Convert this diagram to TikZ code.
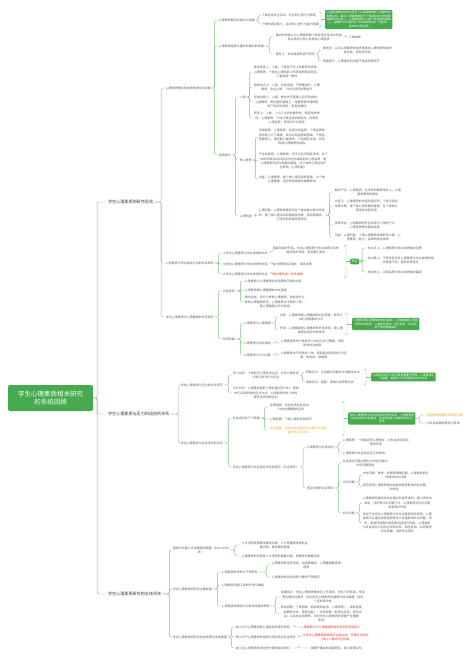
\documentclass[tikz,border=0pt]{standalone}
\usepackage{fontspec}
\setmainfont{Noto Sans CJK SC}
\definecolor{cLine}{RGB}{130,196,130}
\definecolor{cGreen}{RGB}{72,170,78}
\definecolor{cText}{RGB}{95,95,95}
\definecolor{cDark}{RGB}{55,55,55}
\definecolor{cRed}{RGB}{232,52,40}
\definecolor{cOrange}{RGB}{246,160,30}
\tikzset{
 conn/.style={draw=cLine,line width=0.45pt,rounded corners=1.5pt},
 tx/.style={anchor=west,inner sep=0.6pt,align=center,text=cText,font=\fontsize{3}{4.2}\selectfont},
 txr/.style={tx,text=cRed},
 txo/.style={tx,text=cOrange},
 mn/.style={anchor=west,inner sep=0.8pt,text=cDark,font=\fontsize{4.1}{5}\selectfont},
 gb/.style={anchor=west,fill=cGreen,text=white,rounded corners=1pt,inner sep=1.4pt,align=center,font=\fontsize{2.8}{3.4}\selectfont},
 rbox/.style={fill=cGreen,text=white,rounded corners=2pt,minimum width=85pt,minimum height=26pt,align=center,inner sep=2pt,font=\fontsize{6.5}{8.5}\selectfont},
}
\newcommand\lnk[3]{\draw[conn] (#1.east) -- ++(#2,0) |- (#3.west);}
\newcommand\summ[4]{\draw[conn] ({#1-2},#2) -- (#1,#2) -- (#1,#3) -- ({#1-2},#3); \draw[conn] (#1,{(#2+#3)/2}) -- (#4.west);}
\begin{document}
\begin{tikzpicture}[x=1pt,y=-1pt]
\useasboundingbox (0,0) rectangle (474,663);
\fill[white] (0,0) rectangle (474,663);

% root and main branches
\node[rbox] (root) at (50.5,398) {学生心理素质相关研究\\的系统回顾};
\node[mn] (M1) at (107,202) {学生心理素质的研究现状};
\node[mn] (M2) at (107,414) {学生心理素质与压力和适应的关系};
\node[mn] (M3) at (107,594) {学生心理素质研究的总体评述};
\lnk{root}{4}{M1}\lnk{root}{4}{M2}\lnk{root}{4}{M3}

% ===== M1 =====
\node[tx] (A1) at (165,88) {心理素质概念和结构的提出与发展};
\node[tx] (A2) at (165,263) {心理素质与学业成就之间的关系研究};
\node[tx] (A3) at (165,317) {学生心理素质与心理健康的关系研究};
\lnk{M1}{7}{A1}\lnk{M1}{7}{A2}\lnk{M1}{7}{A3}

% A1
\node[tx] (B1) at (218,20) {心理素质概念的提出与发展};
\node[tx] (B2) at (218,46) {心理素质结构从国外到国内的发展};
\node[tx] (B3) at (218,155) {结构成分};
\lnk{A1}{3}{B1}\lnk{A1}{3}{B2}\lnk{A1}{3}{B3}

\node[tx] (C11) at (261,15) {个体在适应生活中，外在的心理行为表现};
\node[tx] (C12) at (261,24) {个体的适应能力，综合的心理行为能力发展};
\lnk{B1}{3}{C11}\lnk{B1}{3}{C12}
\node[gb] (G1) at (325,19.5) {心理素质概念的提出经历了从素质教育到心理素质的\\发展过程，最初心理素质被视为个体适应能力的体现\\随着研究的深入，心理素质被认为是个体在遗传基础\\上，在教育与环境影响下形成的稳定的、内隐的、\\基本的心理品质};
\summ{321}{12}{27}{G1}

\node[tx] (C21) at (275,37) {国内的学者认为心理素质是个体在适应生活中形成\\的以适应为核心的稳定心理品质};
\node[tx] (D21) at (348,37) {三维构成};
\lnk{C21}{3}{D21}
\node[tx] (C22) at (275,54) {国际上：有关素质的因子研究};
\lnk{B2}{5}{C21}\lnk{B2}{5}{C22}
\node[tx] (D221) at (322,50) {素质论：认为心理素质是由多种基本心理特质构成的\\综合体，具有层次性};
\node[tx] (D222) at (322,61) {特质因子：心理素质包含若干基本特质因子};
\lnk{C22}{3}{D221}\lnk{C22}{3}{D222}

% B3
\node[tx] (P1) at (239,97) {人格};
\node[tx] (P2) at (239,160) {核心素质};
\node[tx] (P3) at (239,216) {心理机能};
\lnk{B3}{4}{P1}\lnk{B3}{4}{P2}\lnk{B3}{4}{P3}

\node[tx] (P11) at (253,72) {基本特征上：人格，个体在行为上的差异性表现；\\心理素质，个体在心理机能上所表现的稳定特征，\\二者具有一致性};
\node[tx] (P12) at (253,87) {结构特点上：人格，包含性格、气质等成分；心理\\素质，包含认知、个性与适应性等成分};
\node[tx] (P13) at (253,102) {形成过程上：人格，是在先天基础上后天形成的；\\心理素质，是在遗传基础上，在教育和环境的影\\响下逐步形成的，具有发展性};
\node[tx] (P14) at (253,118) {表现上：人格，人与人之间的差异性、稳定性的体\\现；心理素质，个体心理活动中稳定的、内隐的\\心理品质，表现为行为特征};
\lnk{P1}{3}{P11}\lnk{P1}{3}{P12}\lnk{P1}{3}{P13}\lnk{P1}{3}{P14}

\node[tx] (P21) at (258,137) {内涵结构：心理素质，包括认知品质、个性品质和\\适应能力三个维度，其中认知品质是基础，个性品\\质是核心，适应能力是表现，三者相互作用，共同\\构成心理素质的结构};
\node[tx] (P22) at (258,161) {产生的原因：心理素质，先天与后天相互作用，在个\\体的实践活动中经过内化形成稳定的心理品质，是\\心理素质形成与发展的基础，对个体的心理活动产\\生影响（心理机能）};
\node[tx] (P23) at (258,179) {功能：心理素质，是个体心理活动的基础，对个体\\心理健康、适应和发展具有重要影响};
\lnk{P2}{3}{P21}\lnk{P2}{3}{P22}\lnk{P2}{3}{P23}

\node[tx] (Q) at (258,215) {心理机能：心理素质是经历在个体发展过程中形成\\的，是个体心理活动的基础性机能，具有基础性、\\衍生性和发展性等特点};
\lnk{P3}{3}{Q}
\node[tx] (R1) at (334,192) {概念产生：心理素质，在学校的教育理念上，心理\\素质教育的提出};
\node[tx] (R2) at (334,206) {内容上：心理素质的内容包括认知、个性与适应\\性等方面，是个体心理发展的基础，在个体的心\\理活动中起作用};
\node[tx] (R3) at (334,225) {表现形式：心理素质的外在表现为个体的行为\\心理素质是内隐的品质};
\node[tx] (R4) at (334,237) {功能：心理机能，个体心理素质发展的动力源，心\\理素质、能力、品质的综合体现};
\lnk{Q}{4}{R1}\lnk{Q}{4}{R2}\lnk{Q}{4}{R3}\lnk{Q}{4}{R4}

% A2
\node[tx] (E1) at (222,253) {小学生心理素质与学业成绩的关系};
\node[tx] (E2) at (222,264) {中学生心理素质与学业成绩的关系};
\node[tx] (E3) at (222,274) {大学生心理素质与学业成绩的关系};
\lnk{A2}{4}{E1}\lnk{A2}{4}{E2}\lnk{A2}{4}{E3}
\node[tx] (F1) at (272,250) {随着年级的升高，学生心理素质与学业成绩之间的\\相关逐步显现，呈显著正相关};
\node[tx] (F2) at (272,264) {呈中等程度正相关，相关显著};
\node[txr] (F3) at (272,274) {相关随年级一步步减弱};
\lnk{E1}{3}{F1}\lnk{E2}{3}{F2}\lnk{E3}{3}{F3}
\node[gb,font=\fontsize{3}{3.6}\selectfont] (Gtz) at (350,261.5) {特征};
\summ{346}{245}{278}{Gtz}
\node[tx] (H1) at (367,248) {在水平上，心理素质与学业成绩相关显著};
\node[tx] (H2) at (367,260) {在对象上，不同学段学生心理素质与学业成绩的相\\关程度不同，随学段而变化};
\node[tx] (H3) at (367,272) {在结构上，认知品质与学业成绩相关最高};
\lnk{Gtz}{3}{H1}\lnk{Gtz}{3}{H2}\lnk{Gtz}{3}{H3}

% A3
\node[tx] (J1) at (222,291) {内在联系};
\node[tx] (J2) at (222,339) {作用机制};
\lnk{A3}{4}{J1}\lnk{A3}{4}{J2}
\node[tx] (K1) at (244,281) {心理素质与心理健康存在显著的正相关关系};
\node[tx] (K2) at (244,290) {心理素质是心理健康的内在基础};
\node[tx] (K3) at (244,302) {换句话说，有什么样的心理素质，就会有什么\\样的心理健康状况，心理素质水平高的个体，\\其心理健康水平也较高};
\lnk{J1}{5}{K1}\lnk{J1}{5}{K2}\lnk{J1}{5}{K3}

\node[tx] (L1) at (243,323) {心理素质与心理健康};
\node[tx] (L2) at (243,343) {心理素质与学业成就};
\node[tx] (L3) at (243,355) {心理素质与行为问题};
\lnk{J2}{5}{L1}\lnk{J2}{5}{L2}\lnk{J2}{5}{L3}
\node[tx] (L11) at (279,317) {内部：心理素质是心理健康的内在因素，影响个\\体心理健康的水平};
\node[tx] (L12) at (279,330) {外部：心理健康是心理素质的外在表现，是心理\\素质在适应中的体现};
\lnk{L1}{4}{L11}\lnk{L1}{4}{L12}
\node[gb] (G2) at (352,324) {心理素质是心理健康的内在基础，心理健康是心理素\\质的外在表现，二者相互影响、相互促进，共同促\\进个体的健康成长};
\summ{347}{313}{335}{G2}
\node[tx] (L21) at (280,343) {心理素质影响个体的学习动机与学习策略，进而\\影响学业成就};
\node[tx] (L31) at (280,355) {心理素质水平较低的个体，更容易出现各种行为问\\题，如攻击、退缩等};
\lnk{L2}{4}{L21}\lnk{L3}{4}{L31}

% ===== M2 =====
\node[tx] (N1) at (180,385) {学生心理素质与压力的关系研究};
\node[tx] (N2) at (180,443) {学生心理素质与社会适应的关系};
\lnk{M2}{8}{N1}\lnk{M2}{8}{N2}

\node[tx] (O1) at (232,375) {压力认知：个体在压力事件发生后，对压力事件进\\行的认知评价与应对};
\node[tx] (O2) at (232,393) {应对方式：心理素质高的个体在面对压力时，更倾\\向于采用积极的应对方式，心理素质低的个体则\\更多采用消极应对};
\lnk{N1}{5}{O1}\lnk{N1}{5}{O2}
\node[tx] (O11) at (305,372) {积极应对：主动面对问题并寻求解决办法};
\node[tx] (O12) at (305,382) {消极应对：回避、退缩与自责等方式};
\lnk{O1}{3}{O11}\lnk{O1}{3}{O12}
\node[gb] (G3) at (371,377) {心理素质对压力应对具有重要的作用，心理素质水\\平越高，越倾向于采用积极的应对方式};
\summ{366}{369}{385}{G3}

\node[tx] (S1) at (232,418) {社会适应的三个层面};
\node[tx] (S2) at (232,467) {学生心理素质与社会适应关系的研究（实证研究）};
\lnk{N2}{5}{S1}\lnk{N2}{5}{S2}
\node[tx] (S11) at (269,407) {生理层面：学生在适应社会中，\\个体生理健康的变化};
\node[tx] (S12) at (269,419) {心理层面：个体心理的自我调节};
\node[txo] (S13) at (269,430) {社会层面：学生在适应社会中与他人交往的\\能力与人际关系};
\lnk{S1}{4}{S11}\lnk{S1}{4}{S12}\lnk{S1}{4}{S13}
\node[gb] (G4) at (348,418.5) {学生心理素质与社会适应存在密切关系，心理素质是\\社会适应的内在基础，社会适应是心理素质的外在\\表现};
\summ{344}{401}{436}{G4}
\node[txo] (T1) at (426,415) {这些影响是相互的适应过程};
\node[tx] (T2) at (426,423) {与社会层面的联系与影响};
\lnk{G4}{4}{T1}\lnk{G4}{4}{T2}

\node[tx] (U1) at (306,447) {心理素质与社会适应};
\node[tx] (U2) at (306,488) {适应问题的实证研究};
\lnk{S2}{3.5}{U1}\lnk{S2}{3.5}{U2}
\node[tx] (U11) at (342,442) {心理素质：一类稳定的心理特征，对社会适应具有\\预测作用};
\node[tx] (U12) at (342,453) {心理素质对社会适应有正向影响};
\lnk{U1}{4}{U11}\lnk{U1}{4}{U12}
\node[tx] (V1) at (342,463) {社会适应问题主要分为内化问题与\\外化问题两类};
\node[tx] (V2) at (342,482) {内化问题};
\node[tx] (V3) at (342,513) {外化问题};
\lnk{U2}{4}{V1}\lnk{U2}{4}{V2}\lnk{U2}{4}{V3}
\node[tx] (V21) at (362,475) {内化问题：焦虑、抑郁等情绪问题，心理素质能负\\向预测内化问题};
\node[tx] (V22) at (362,487) {研究发现心理素质通过自我效能感影响内化问题\\的发生};
\lnk{V2}{4}{V21}\lnk{V2}{4}{V22}
\node[tx] (V31) at (362,503) {心理素质较高的学生在面对外部环境时，更少表现出\\攻击、违纪等外化问题行为，心理素质对外化问题\\具有保护作用};
\node[tx] (V32) at (362,523) {来自于中学生心理素质与外化问题的研究表明，心理\\素质可以通过自我控制等中介变量影响外化问题，同\\时，家庭环境等外部因素也起调节作用，心理素质\\与社会适应之间存在双向关系，相互影响，共同促进\\学生发展，培养学生适应};
\lnk{V3}{4}{V31}\lnk{V3}{4}{V32}

% ===== M3 =====
\node[tx] (W1) at (172,550) {国家中长期人才发展规划纲要（2010-2020\\年）};
\node[tx] (W2) at (172,589) {学生心理素质研究的主要成果};
\node[tx] (W3) at (172,637) {学生心理素质研究存在的局限与未来展望};
\lnk{M3}{7}{W1}\lnk{M3}{7}{W2}\lnk{M3}{7}{W3}
\node[tx] (W11) at (241,545) {人才培养是国家发展的关键，人才是国家发展的主\\要资源，是发展的基础};
\node[tx] (W12) at (241,556) {心理素质的培养是人才培养的重要内容，是教育的重要目标};
\lnk{W1}{5}{W11}\lnk{W1}{5}{W12}

\node[tx] (X1) at (221,572) {心理素质的培养与干预研究};
\node[tx] (X2) at (221,585) {心理素质测量工具的开发与编制};
\node[tx] (X3) at (221,606) {心理素质发展特点与影响因素的研究};
\lnk{W2}{5}{X1}\lnk{W2}{5}{X2}\lnk{W2}{5}{X3}
\node[tx] (X11) at (271,565) {心理素质的培养途径，如团体辅导、心理健康教育课\\程等};
\node[tx] (X12) at (271,577) {心理素质的综合培养与教育干预研究};
\lnk{X1}{8}{X11}\lnk{X1}{8}{X12}
\node[tx] (X31) at (280,597) {发展特点：学生心理素质整体呈上升趋势，但在不同年级、性别\\等方面存在差异，初中阶段心理素质发展相对较为缓慢，存在\\一定的波动性};
\node[tx] (X32) at (280,614) {影响因素：个体因素（如自我效能感、人格特质）、家庭因素\\（如教养方式、家庭功能）、学校因素（如师生关系、同伴关\\系）以及社会因素等，均对学生心理素质的发展产生重要\\影响};
\lnk{X3}{5}{X31}\lnk{X3}{5}{X32}

\node[tx] (Y1) at (235,627) {缺少对于心理素质的心理结构的理论研究};
\node[tx] (Y2) at (235,637) {缺少对于心理素质的结构与适应性的实证研究};
\node[tx] (Y3) at (235,648) {缺少在心理素质的适应性方面的纵向研究};
\lnk{W3}{4}{Y1}\lnk{W3}{4}{Y2}\lnk{W3}{4}{Y3}
\node[txr] (Z1) at (300,627) {心理素质对于心理健康的适应性研究有待深入};
\node[txr] (Z2) at (302,637) {从学生心理素质的结构与功能出发，开展实证研究\\探讨二者的内在机制};
\node[tx] (Z3) at (310,648) {需要开展纵向追踪研究，探讨发展变化};
\lnk{Y1}{4}{Z1}\lnk{Y2}{3}{Z2}\lnk{Y3}{8}{Z3}
\end{tikzpicture}
\end{document}
